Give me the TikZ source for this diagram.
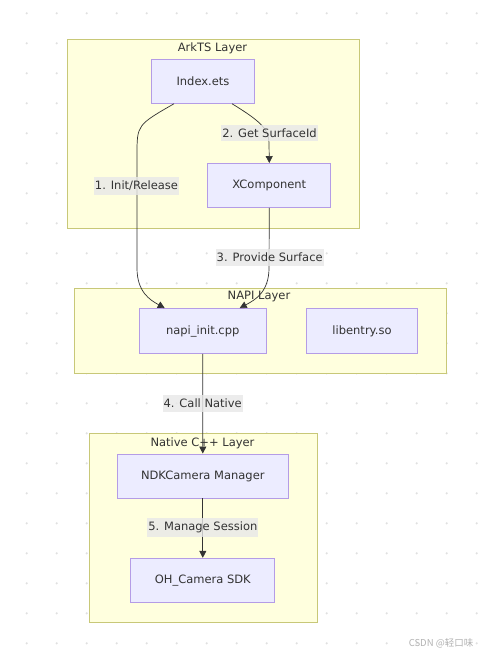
\documentclass[tikz,border=0pt]{standalone}
\usepackage{fontspec}
\setmainfont{DejaVu Sans}
\newfontfamily\cjkfont{Noto Sans CJK SC}
\usetikzlibrary{arrows.meta}
\definecolor{layerfill}{HTML}{FFFFDE}
\definecolor{layerline}{HTML}{C8C878}
\definecolor{boxfill}{HTML}{ECECFF}
\definecolor{boxline}{HTML}{B49CE6}
\definecolor{edgeline}{HTML}{333333}
\definecolor{labelbg}{HTML}{E8E8E8}
\tikzset{
    layer/.style={draw=layerline, fill=layerfill, line width=0.9pt},
    box/.style={draw=boxline, fill=boxfill, line width=0.9pt, minimum height=44, text=edgeline},
    flow/.style={draw=edgeline, line width=0.7pt, -{Triangle[length=7pt,width=7pt]}},
    lbl/.style={fill=labelbg, fill opacity=0.8, text opacity=1, inner xsep=1pt, inner ysep=4pt, text=edgeline},
    ttl/.style={text=edgeline},
}
\begin{document}
\begin{tikzpicture}[x=1pt, y=-1pt, font=\fontsize{11.5}{13}\selectfont]
    \useasboundingbox (0,0) rectangle (480,655);
    \fill[white] (0,0) rectangle (480,655);
    % dot grid
    \foreach \i in {0,...,15}
        \foreach \j in {0,...,21}
            \fill[black!12] (26.7+30*\i, 13.3+30*\j) circle (1.2);
    % layers
    \node[layer, minimum width=292, minimum height=189] (ark) at (213,133.5) {};
    \node[ttl] (arkttl) at (212.5,48) {ArkTS Layer};
    \node[layer, minimum width=372, minimum height=85] (napilayer) at (260,331) {};
    \node[ttl] (napittl) at (259,297) {NAPI Layer};
    \node[layer, minimum width=228, minimum height=189] (native) at (203,528) {};
    \node[ttl] (nativettl) at (202.5,443.3) {Native C++ Layer};
    % components
    \node[box, minimum width=103] (idx) at (203,81.3) {Index.ets};
    \node[box, minimum width=123] (xc) at (269.3,185.5) {XComponent};
    \node[box, minimum width=127, minimum height=45] (napi) at (202.7,331) {napi\_init.cpp};
    \node[box, minimum width=111, minimum height=45] (lib) at (362,331) {libentry.so};
    \node[box, minimum width=171] (ndk) at (202.8,476) {NDKCamera Manager};
    \node[box, minimum width=144] (oh) at (202.8,580.3) {OH\_Camera SDK};
    % calls
    \draw[flow] ([xshift=-29pt]idx.south) .. controls (137,125) .. (137,155) -- (137,268)
        .. controls (137,292) and (150,300) .. ([xshift=-38pt]napi.north);
    \draw[flow] ([xshift=29pt]idx.south) .. controls (262,122) and (269,130) .. (269,143) -- (xc.north);
    \draw[flow] (xc.south) -- (269,268) .. controls (269,292) and (255,300) .. ([xshift=37pt]napi.north);
    \draw[flow] (napi.south) -- (ndk.north);
    \draw[flow] (ndk.south) -- (oh.north);
    % edge labels
    \node[lbl] (l1) at (136.5,186) {1. Init/Release};
    \node[lbl] (l2) at (269.5,133) {2. Get SurfaceId};
    \node[lbl] (l3) at (269.7,257.5) {3. Provide Surface};
    \node[lbl] (l4) at (202.7,403.3) {4. Call Native};
    \node[lbl] (l5) at (202.8,527.3) {5. Manage Session};
    \node[text=black!30, font=\cjkfont\fontsize{9.5}{11}\selectfont] (wm) at (441,643) {CSDN @轻口味};
\end{tikzpicture}
\end{document}
